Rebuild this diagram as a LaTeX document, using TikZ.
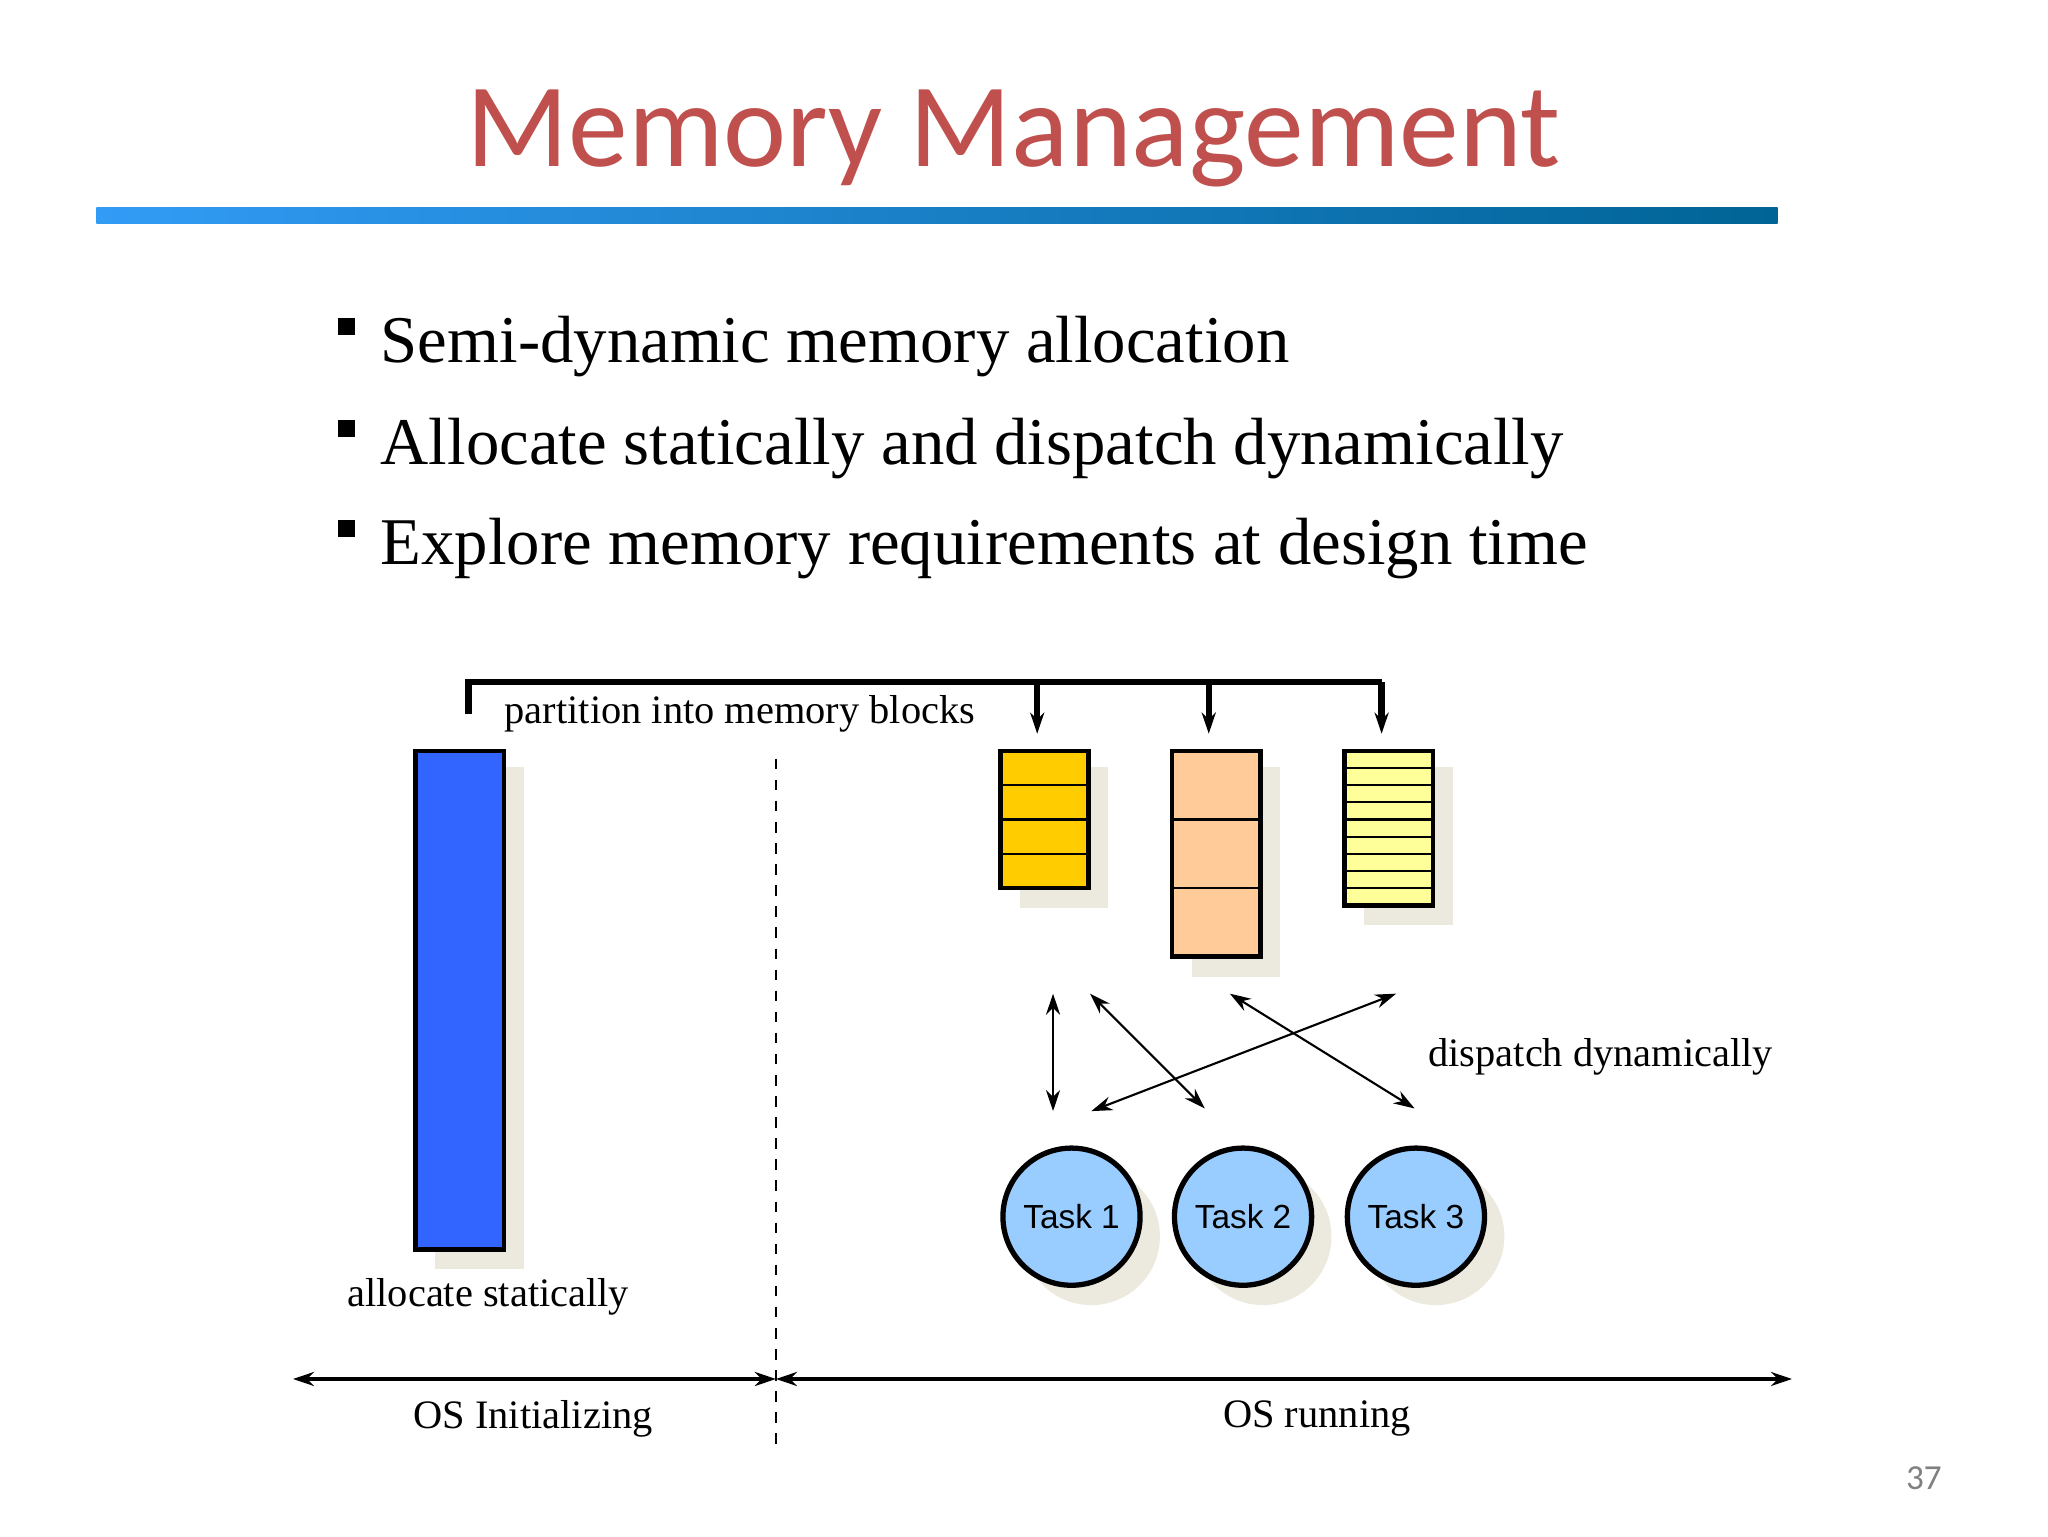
\documentclass[tikz,border=0pt]{standalone}
\usepackage{fontspec}
\setmainfont{Liberation Serif}
\newfontfamily\carl{Carlito}
\newfontfamily\arial{Liberation Sans}
\usetikzlibrary{arrows.meta,shadows}
\definecolor{titlered}{RGB}{192,80,77}
\definecolor{barL}{RGB}{50,155,245}
\definecolor{barR}{RGB}{0,100,150}
\definecolor{shad}{RGB}{236,233,222}
\definecolor{blueblk}{RGB}{50,100,255}
\definecolor{yel}{RGB}{255,204,0}
\definecolor{peach}{RGB}{255,204,153}
\definecolor{lyel}{RGB}{255,255,153}
\definecolor{taskc}{RGB}{153,204,255}
\begin{document}
\begin{tikzpicture}[x=0.013196cm,y=-0.013196cm,
  blk/.style={draw=black,line width=1.3pt},
  sh/.style={fill=shad,draw=none},
  lbl/.style={font=\fontsize{11.5pt}{13pt}\selectfont,inner sep=0pt},
  arr/.style={-{Stealth[length=6pt,width=4pt]},line width=0.6pt},
  darr/.style={{Stealth[length=6pt,width=4pt]}-{Stealth[length=6pt,width=4pt]},line width=0.6pt},
  task/.style={circle,draw=black,line width=1.5pt,fill=taskc,minimum size=104\pgflinewidth,inner sep=0pt,font=\arial\fontsize{9.5pt}{11pt}\selectfont},
  bul/.style={anchor=base west,inner sep=0pt,font=\fontsize{19pt}{22pt}\selectfont}]
\useasboundingbox (0,0) rectangle (1552,1164);
\node[text=titlered,font=\carl\fontsize{34pt}{40pt}\selectfont] (title) at (768,105) {Memory Management};
\shade[left color=barL,right color=barR] (73,157) rectangle (1347,169);
\foreach \y/\t [count=\i] in {275/Semi-dynamic memory allocation,352/Allocate statically and dispatch dynamically,428/Explore memory requirements at design time}{
  \fill (256,\y-34) rectangle (269,\y-21);
  \node[bul] (b\i) at (288,\y) {\t};
}
% bracket
\coordinate (bs) at (355,541);
\coordinate (bl) at (355,517);
\coordinate (br) at (1047,517);
\draw[line width=1.8pt] (bs) -- (bl) -- (br);
\coordinate (t1) at (786,517); \coordinate (t2) at (916,517);
\coordinate (e1) at (786,556); \coordinate (e2) at (916,556); \coordinate (e3) at (1047,556);
\draw[arr,line width=1.8pt] (t1) -- (e1);
\draw[arr,line width=1.8pt] (t2) -- (e2);
\draw[arr,line width=1.8pt] (br) -- (e3);
\node[lbl,anchor=base west] (part) at (382,548) {partition into memory blocks};
% blue bar
\fill[sh] (330,581) rectangle (397,962);
\draw[blk,fill=blueblk] (315,569) rectangle (382,947);
\node[lbl] (alloc) at (370,983) {allocate statically};
% dashed
\coordinate (d1) at (588,575); \coordinate (d2) at (588,1097);
\draw[dashed,line width=0.8pt] (d1) -- (d2);
% blocks
\fill[sh] (773,581) rectangle (840,688);
\draw[blk,fill=yel] (758,569) rectangle (825,673);
\foreach \y in {595,621,647} \draw[line width=0.6pt] (758,\y) -- (825,\y);
\fill[sh] (903,581) rectangle (970,740);
\draw[blk,fill=peach] (888,569) rectangle (955,725);
\foreach \y in {621,673} \draw[line width=0.6pt] (888,\y) -- (955,\y);
\fill[sh] (1034,581) rectangle (1101,701);
\draw[blk,fill=lyel] (1019,569) rectangle (1086,686);
\foreach \i in {1,...,8} \draw[line width=0.6pt] (1019,569+13*\i) -- (1086,569+13*\i);
% dispatch arrows
\coordinate (a1) at (798,753); \coordinate (a2) at (798,842);
\coordinate (a3) at (826,753); \coordinate (a4) at (913,840);
\coordinate (a5) at (1058,753); \coordinate (a6) at (827,842);
\coordinate (a7) at (932,753); \coordinate (a8) at (1072,840);
\draw[darr] (a1) -- (a2);
\draw[darr] (a3) -- (a4);
\draw[darr] (a5) -- (a6);
\draw[darr] (a7) -- (a8);
\node[lbl,anchor=base west] (disp) at (1082,808) {dispatch dynamically};
% tasks
\foreach \x in {827,957,1088} \fill[shad] (\x,937) circle (52);
\node[task,minimum size=1.372cm] (task1) at (812,922) {Task 1};
\node[task,minimum size=1.372cm] (task2) at (942,922) {Task 2};
\node[task,minimum size=1.372cm] (task3) at (1073,922) {Task 3};
% timeline
\coordinate (l0) at (222,1045); \coordinate (l1) at (588,1045); \coordinate (l2) at (1358,1045);
\draw[darr,line width=1pt] (l0) -- (l1);
\draw[darr,line width=1pt] (l1) -- (l2);
\node[lbl] (osi) at (404,1075) {OS Initializing};
\node[lbl] (osr) at (998,1075) {OS running};
\node[text=gray,font=\carl\fontsize{10pt}{12pt}\selectfont] (pg) at (1458,1120) {37};
\end{tikzpicture}
\end{document}
